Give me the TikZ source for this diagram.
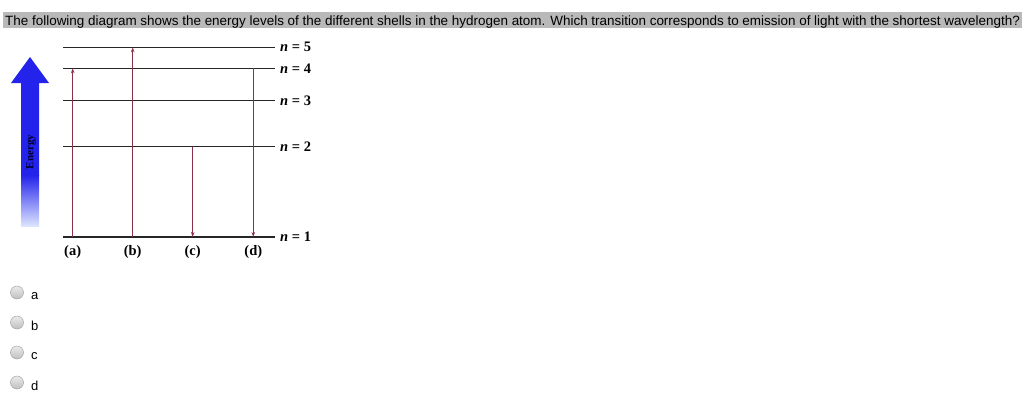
\documentclass[tikz,border=0pt]{standalone}
\usepackage{fontspec}
\setmainfont{Liberation Serif}
\newfontfamily\arialf{Liberation Sans}
\usetikzlibrary{arrows.meta,shadings}
\definecolor{trans}{HTML}{8A3048}
\definecolor{hilite}{HTML}{B9B9B9}
\definecolor{ablue}{RGB}{35,35,235}
\definecolor{alight}{RGB}{220,228,255}
\newcommand{\nvar}{\textbf{\textit{n}}}
\begin{document}
\begin{tikzpicture}[x=1pt,y=-1pt,
  level/.style={draw=black!85,line width=1.3pt},
  trarrow/.style={draw=trans,line width=0.9pt,-{Stealth[length=5pt,width=3.5pt]}},
  lvlabel/.style={anchor=west,font=\bfseries\fontsize{14.5}{16}\selectfont,inner sep=0pt},
  trlabel/.style={font=\bfseries\fontsize{14.5}{16}\selectfont,inner sep=0pt},
  radio/.style={circle,minimum size=13pt,inner sep=0pt,draw=black!35,line width=0.5pt,top color=black!8,bottom color=black!25},
  optlabel/.style={anchor=west,font=\arialf\fontsize{13}{14}\selectfont,inner sep=0pt}]
\useasboundingbox (0,0) rectangle (1024,413);
\fill[white] (0,0) rectangle (1024,413);
% title
\fill[hilite] (3,12.3) rectangle (1021.5,28);
\node[anchor=base west,inner sep=0pt,font=\arialf\fontsize{13.45}{15}\selectfont] (title) at (5,25) {The following diagram shows the energy levels of the different shells in the hydrogen atom. Which transition corresponds to emission of light with the shortest wavelength?};
% energy arrow
\fill[ablue] (11,83) -- (30,57) -- (49,83) -- (39,83) -- (39,176) -- (21,176) -- (21,83) -- cycle;
\shade[top color=ablue,bottom color=alight] (21,175) rectangle (39,226);
\node[rotate=90,font=\bfseries\fontsize{11}{12}\selectfont,text=black!70!blue!60!black,inner sep=0pt] (energy) at (31,152) {Energy};
% levels
\coordinate (l5) at (63,47.3); \coordinate (r5) at (275,47.3);
\coordinate (l4) at (63,68.3); \coordinate (r4) at (275,68.3);
\coordinate (l3) at (63,100.3); \coordinate (r3) at (275,100.3);
\coordinate (l2) at (63,146.7); \coordinate (r2) at (275,146.7);
\coordinate (l1) at (63,237); \coordinate (r1) at (275,237);
\draw[level] (l5) -- (r5);
\draw[level] (l4) -- (r4);
\draw[level] (l3) -- (r3);
\draw[level] (l2) -- (r2);
\draw[level] (l1) -- (r1);
\node[lvlabel] (n5) at (280,47.3) {\nvar{} = 5};
\node[lvlabel] (n4) at (280,68.3) {\nvar{} = 4};
\node[lvlabel] (n3) at (280,100.3) {\nvar{} = 3};
\node[lvlabel] (n2) at (280,146.7) {\nvar{} = 2};
\node[lvlabel] (n1) at (280,237) {\nvar{} = 1};
% transitions
\coordinate (a1) at (72.7,237); \coordinate (a4) at (72.7,68.3);
\coordinate (b1) at (132.7,237); \coordinate (b5) at (132.7,47.3);
\coordinate (c2) at (192.7,146.7); \coordinate (c1) at (192.7,237);
\coordinate (d4) at (253.3,68.3); \coordinate (d1) at (253.3,237);
\draw[trarrow] (a1) -- (a4);
\draw[trarrow] (b1) -- (b5);
\draw[trarrow] (c2) -- (c1);
\draw[trarrow] (d4) -- (d1);
\node[trlabel] (la) at (72.7,252) {(a)};
\node[trlabel] (lb) at (132.7,252) {(b)};
\node[trlabel] (lc) at (192.7,252) {(c)};
\node[trlabel] (ld) at (253.3,252) {(d)};
% options
\node[radio] (ra) at (17,292.5) {};
\node[radio] (rb) at (17,322.5) {};
\node[radio] (rc) at (17,352.5) {};
\node[radio] (rd) at (17,382.5) {};
\node[optlabel] (oa) at (31,296) {a};
\node[optlabel] (ob) at (31,326) {b};
\node[optlabel] (oc) at (31,356) {c};
\node[optlabel] (od) at (31,386) {d};
\end{tikzpicture}
\end{document}
